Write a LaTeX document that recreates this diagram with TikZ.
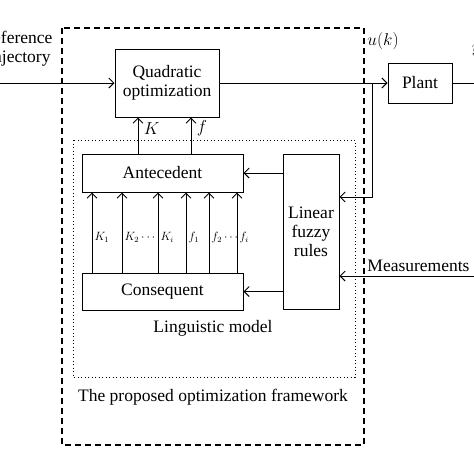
\documentclass[tikz,border=0pt]{standalone}
\usepackage{fontspec}
\setmainfont{Liberation Serif}
\usetikzlibrary{arrows.meta}
\begin{document}
\begin{tikzpicture}[x = 1pt, y = -1pt, line width = 1pt, >={Straight Barb[length=5pt,width=10pt]},
	font = \fontsize{17.5}{19}\selectfont,
	box/.style = {draw, inner sep = 0pt, align = center},
	lab/.style = {font = \fontsize{12}{14}\selectfont, inner sep = 2pt}]
	\useasboundingbox (0,0) rectangle (474,474);
	\def\bw{161}  %width of antecedent / consequent
	\def\bx{162.5}  %their centre
	\path 
	(0,83) coordinate (ref)
	(372,83) coordinate (j)
	(372,197) coordinate (fb)
	(474,83) coordinate (yout)
	(474,276) coordinate (meas)
	;
	% frames
	\draw[line width = 1.1pt, dash pattern = on 6pt off 4pt] (62,28) rectangle (364,445);
	\draw[dash pattern = on 1pt off 2.5pt] (73,140) rectangle (355,377);
	
	\node[box, minimum width = 104pt, minimum height = 68pt] (quad) at (167,83) {Quadratic\\optimization};
	\node[box, minimum width = 64pt, minimum height = 40pt] (plant) at (420,83) {Plant};
	\node[box, minimum width = 56pt, minimum height = 155pt] (rules) at (311,231.5) {Linear\\fuzzy\\rules};
	\node[box, minimum width = \bw pt, minimum height = 38pt] (ante) at (\bx,173) {Antecedent};
	\node[box, minimum width = \bw pt, minimum height = 37pt] (cons) at (\bx,291.5) {Consequent};
	
	\node[align = center] (reftxt) at (17,49) {Reference\\trajectory};
	\node (uk) at (383,41) {$u(k)$};
	\node[anchor = west] (ytxt) at (468,50) {$y$};
	\node[anchor = south east, inner sep = 4pt] (meastxt) at (meas) {Measurements};
	\node (lm) at (213,328) {Linguistic model};
	\node (pf) at (213,397) {The proposed optimization framework};
	
	\draw[->] (ref) -- (quad);
	\draw[->] (quad) -- (plant);
	\draw (plant) -- (yout);
	\draw[->] (j) -- (fb) -- (rules.east |- fb);
	\draw[->] (meas) -- (rules.east |- meas);
	\draw[->] (rules.west |- ante.east) -- (ante);
	\draw[->] (rules.west |- cons.east) -- (cons);
	
	\foreach \xx/\g in {138/K,191/f}{
		\path (\xx,0) coordinate (t);
		\draw[->] (ante.north -| t) -- node[right, pos = .7, xshift = 2pt] {$\g$} (quad.south -| t);
	}
	\foreach \xx/\g in {92/K_1,122/K_2\cdots,158/K_i,186/f_1,209/f_2\cdots,237/f_i}{
		\path (\xx,0) coordinate (t);
		\draw[->] (cons.north -| t) -- node[lab, right, pos = .44] {$\g$} (ante.south -| t);
	}
	%\fill (j) circle (2pt);
\end{tikzpicture}
\end{document}
